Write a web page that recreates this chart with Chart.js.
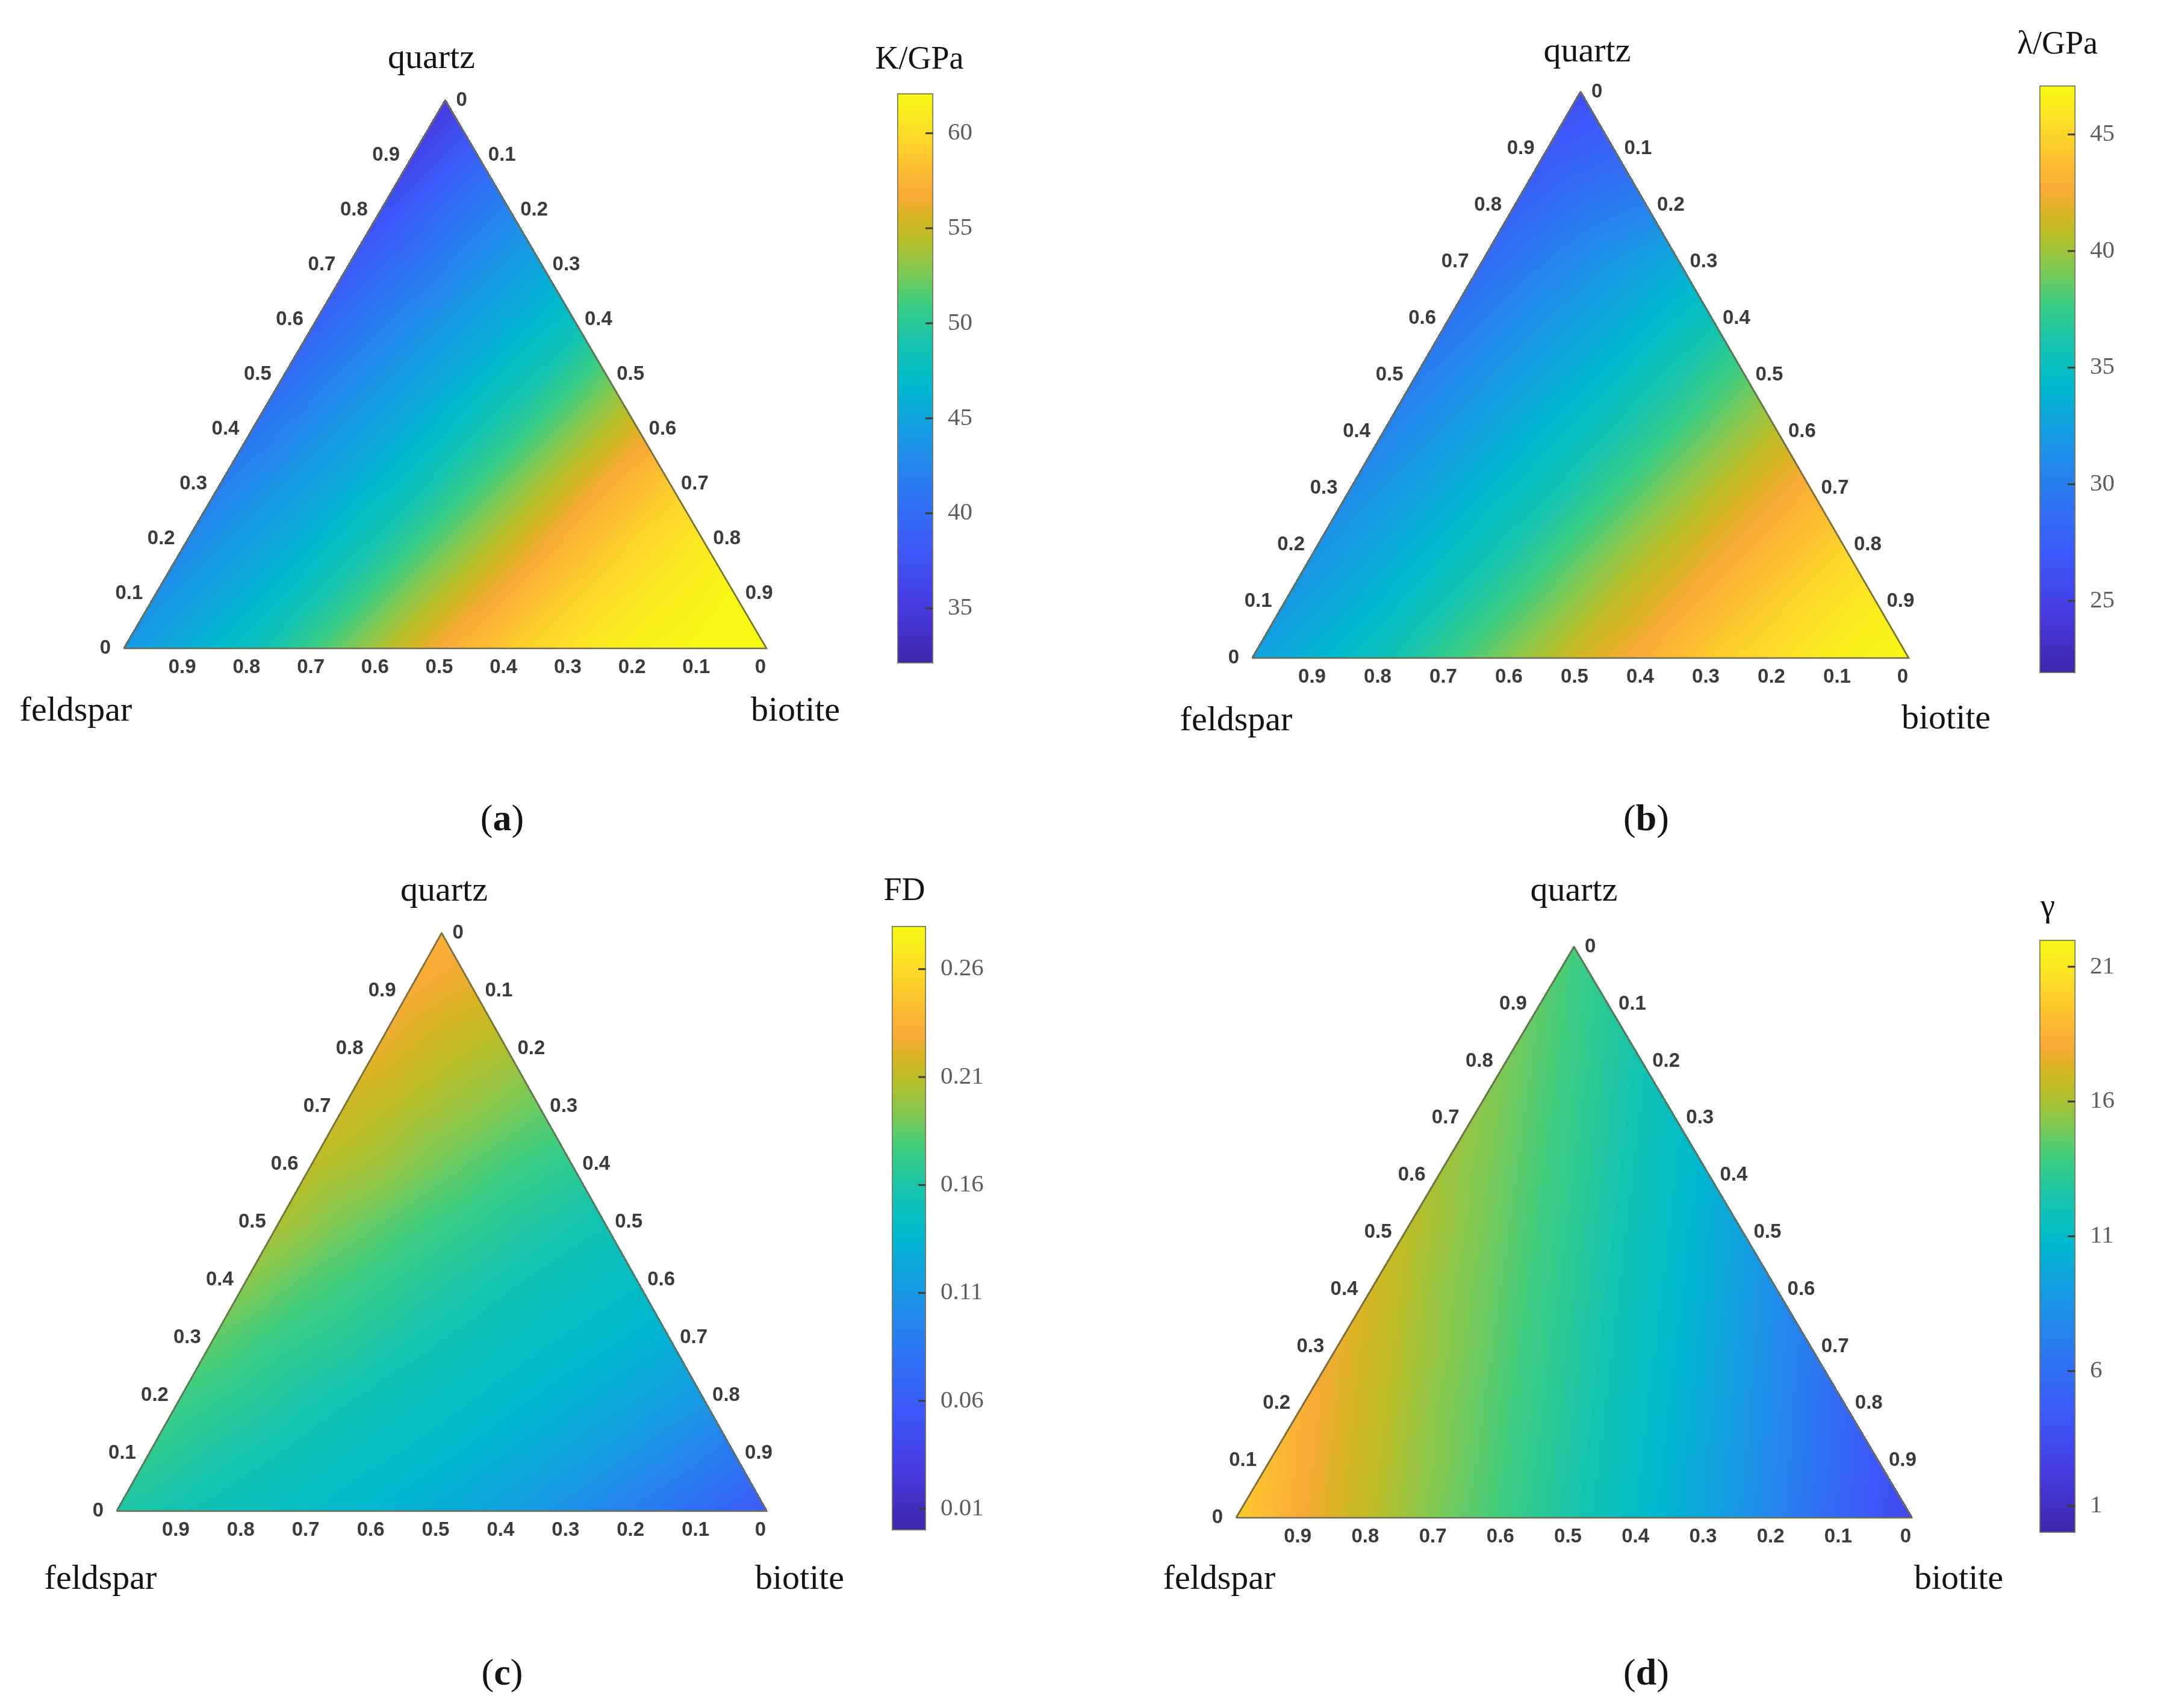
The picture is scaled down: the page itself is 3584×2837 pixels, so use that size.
<!DOCTYPE html>
<html>
<head>
<meta charset="utf-8">
<script src="https://cdn.jsdelivr.net/npm/chart.js@4.4.1/dist/chart.umd.min.js"></script>
<style>
  html, body { margin: 0; padding: 0; background: #fff; }
  body { width: 3584px; height: 2837px; position: relative; overflow: hidden; }
  canvas { position: absolute; }
  .txt { position: absolute; transform: translate(-50%, -50%); white-space: nowrap;
         font-family: "Liberation Serif", "Times New Roman", serif; color: #141414; }
  .cap { font-size: 62px; }
  .cbt { font-size: 54px; }
</style>
</head>
<body>
<script>
// edge labels of the three ternary axes
const edgeTicks = ["0", "0.1", "0.2", "0.3", "0.4", "0.5", "0.6", "0.7", "0.8", "0.9"];
const vertexNames = ["quartz", "feldspar", "biotite"];

// each row is one quartz fraction (0, 0.1 ... 1), entries run over biotite 0 ... 1-quartz
const bulkModulus = [
  [44.0, 46.0, 48.0, 51.0, 54.0, 57.0, 59.0, 60.5, 61.5, 62.0, 62.0],
  [43.3, 45.3, 47.3, 49.9, 53.0, 55.9, 58.3, 60.0, 61.1, 61.9],
  [42.6, 44.6, 46.6, 48.9, 51.9, 54.9, 57.6, 59.5, 60.8],
  [41.9, 43.9, 45.9, 47.9, 50.9, 53.9, 56.9, 58.9],
  [40.9, 43.2, 45.2, 47.2, 49.8, 52.8, 55.8],
  [40.0, 42.5, 44.5, 46.5, 48.8, 51.8],
  [39.1, 41.7, 43.8, 45.8, 47.8],
  [38.4, 40.7, 43.1, 45.1],
  [37.2, 39.9, 42.4],
  [36.0, 39.0],
  [35.0]
];
const lameLambda = [
  [32.5, 34.0, 35.5, 37.5, 39.5, 41.5, 43.0, 44.5, 45.5, 46.5, 47.0],
  [32.0, 33.5, 35.0, 36.8, 38.8, 40.8, 42.5, 44.0, 45.2, 46.2],
  [31.5, 33.0, 34.5, 36.2, 38.2, 40.2, 42.0, 43.5, 44.8],
  [31.0, 32.5, 34.0, 35.5, 37.5, 39.5, 41.5, 43.0],
  [30.5, 32.0, 33.5, 35.0, 36.8, 38.8, 40.8],
  [30.0, 31.5, 33.0, 34.5, 36.2, 38.2],
  [29.3, 31.0, 32.5, 34.0, 35.5],
  [28.5, 30.3, 31.8, 33.2],
  [27.8, 29.3, 30.3],
  [27.0, 28.0],
  [26.0]
];
const fdValues = [
  [0.162, 0.155, 0.148, 0.142, 0.135, 0.128, 0.118, 0.105, 0.090, 0.075, 0.058],
  [0.170, 0.161, 0.154, 0.147, 0.141, 0.134, 0.126, 0.115, 0.102, 0.087],
  [0.176, 0.168, 0.159, 0.152, 0.146, 0.139, 0.132, 0.124, 0.113],
  [0.185, 0.174, 0.167, 0.158, 0.151, 0.144, 0.138, 0.131],
  [0.195, 0.182, 0.173, 0.164, 0.156, 0.149, 0.143],
  [0.205, 0.191, 0.180, 0.171, 0.162, 0.155],
  [0.210, 0.202, 0.189, 0.178, 0.170],
  [0.215, 0.207, 0.198, 0.187],
  [0.225, 0.213, 0.205],
  [0.230, 0.222],
  [0.235]
];
const gammaValues = [
  [19.7, 18.0, 16.5, 15.0, 13.8, 12.5, 11.0, 9.5, 7.5, 5.2, 3.0],
  [19.0, 17.4, 15.9, 14.6, 13.3, 11.9, 10.4, 8.7, 6.6, 4.3],
  [18.3, 16.8, 15.3, 14.1, 12.8, 11.3, 9.8, 7.8, 5.5],
  [17.7, 16.2, 14.9, 13.6, 12.2, 10.7, 9.0, 6.9],
  [17.1, 15.6, 14.4, 13.1, 11.6, 10.1, 8.1],
  [16.5, 15.2, 13.9, 12.5, 11.0, 9.3],
  [15.9, 14.7, 13.4, 11.9, 10.4],
  [15.5, 14.2, 12.8, 11.3],
  [15.0, 13.7, 12.2],
  [14.5, 13.1],
  [14.0]
];

// colour bar limits and ticks
const kRange = [32.1, 62.1];
const kTicks = [35, 40, 45, 50, 55, 60];
const lambdaRange = [21.9, 47.1];
const lambdaTicks = [25, 30, 35, 40, 45];
const fdRange = [0.0, 0.28];
const fdTicks = [0.01, 0.06, 0.11, 0.16, 0.21, 0.26];
const gammaRange = [0.0, 22.0];
const gammaTicks = [1, 6, 11, 16, 21];

// parula-like colour map (position, r, g, b)
const colourStops = [
  [0.00, 62, 38, 168], [0.10, 70, 58, 225], [0.20, 60, 88, 250], [0.28, 48, 112, 245],
  [0.35, 35, 135, 235], [0.42, 18, 160, 225], [0.49, 0, 185, 205], [0.56, 20, 195, 175],
  [0.63, 60, 205, 130], [0.69, 130, 200, 80], [0.745, 185, 190, 40], [0.785, 218, 180, 35],
  [0.82, 248, 170, 55], [0.87, 252, 190, 48], [0.93, 252, 220, 40], [1.00, 248, 250, 20]
];

const SQ = Math.sqrt(3) / 2;
const PAD = 240;

const lut = [];
for (let i = 0; i < 256; i++) {
  const t = i / 255;
  let k = 0;
  while (k < colourStops.length - 2 && colourStops[k + 1][0] < t) k++;
  const a = colourStops[k], b = colourStops[k + 1];
  const s = Math.min(1, Math.max(0, (t - a[0]) / (b[0] - a[0])));
  lut.push([0, 1, 2].map(c => Math.round(a[c + 1] + (b[c + 1] - a[c + 1]) * s)));
}
const colourAt = t => lut[Math.round(Math.min(1, Math.max(0, t)) * 255)];

// linear interpolation inside the ternary grid (rows by quartz, step 0.1)
function fieldAt(rows, q, b) {
  const u0 = q * 10, v0 = b * 10;
  const i = Math.min(9, Math.max(0, Math.floor(u0)));
  const j = Math.min(9 - i, Math.max(0, Math.floor(v0)));
  const u = u0 - i, v = v0 - j;
  if (u + v <= 1 || i + j === 9) {
    return rows[i][j] * (1 - u - v) + rows[i + 1][j] * u + rows[i][j + 1] * v;
  }
  return rows[i + 1][j + 1] * (u + v - 1) + rows[i + 1][j] * (1 - v) + rows[i][j + 1] * (1 - u);
}

const fieldShading = {
  id: "fieldShading",
  beforeDatasetsDraw(chart, args, opts) {
    const { ctx, scales: { x, y } } = chart;
    const left = Math.floor(x.getPixelForValue(0)) - 1;
    const right = Math.ceil(x.getPixelForValue(1)) + 1;
    const top = Math.floor(y.getPixelForValue(SQ)) - 1;
    const bottom = Math.ceil(y.getPixelForValue(0)) + 1;
    const w = right - left, h = bottom - top;
    const off = document.createElement("canvas");
    off.width = w; off.height = h;
    const octx = off.getContext("2d");
    const img = octx.createImageData(w, h);
    const d = img.data;
    for (let py = 0; py < h; py++) {
      const q = y.getValueForPixel(top + py + 0.5) / SQ;
      for (let px = 0; px < w; px++) {
        const b = x.getValueForPixel(left + px + 0.5) - q / 2;
        if (q < -0.002 || b < -0.002 || 1 - q - b < -0.002) continue;
        const qc = Math.min(1, Math.max(0, q));
        const bc = Math.min(1 - qc, Math.max(0, b));
        const c = colourAt((fieldAt(opts.rows, qc, bc) - opts.lo) / (opts.hi - opts.lo));
        const k = (py * w + px) * 4;
        d[k] = c[0]; d[k + 1] = c[1]; d[k + 2] = c[2]; d[k + 3] = 255;
      }
    }
    octx.putImageData(img, 0, 0);
    ctx.drawImage(off, left, top);
  }
};

const ternaryLabels = {
  id: "ternaryLabels",
  afterDraw(chart, args, opts) {
    const { ctx, scales: { x, y } } = chart;
    const at = (q, b) => [x.getPixelForValue(b + q / 2), y.getPixelForValue(q * SQ)];
    ctx.save();
    ctx.font = 'bold 33px "Liberation Sans", Arial, sans-serif';
    ctx.fillStyle = "#3b3b3b";
    ctx.textBaseline = "middle";
    edgeTicks.forEach((t, k) => {
      const v = k / 10;
      let [px, py] = at(v, 0);
      ctx.textAlign = "right";
      ctx.fillText(t, px - 22, py);
      [px, py] = at(1 - v, v);
      ctx.textAlign = "left";
      ctx.fillText(t, px + 18, py);
      [px, py] = at(0, 1 - v);
      ctx.textAlign = "center";
      ctx.fillText(t, px - 10, py + 32);
    });
    ctx.font = '58px "Liberation Serif", "Times New Roman", serif';
    ctx.fillStyle = "#141414";
    ctx.textAlign = "center";
    const corners = [at(1, 0), at(0, 0), at(0, 1)];
    vertexNames.forEach((name, k) => {
      const o = opts.offsets[k];
      ctx.fillText(name, corners[k][0] + o[0], corners[k][1] + o[1]);
    });
    ctx.restore();
  }
};

const barTicks = {
  id: "barTicks",
  afterDatasetsDraw(chart) {
    const { ctx, chartArea: a, scales: { y } } = chart;
    ctx.save();
    ctx.strokeStyle = "#3c3c30";
    ctx.lineWidth = 3;
    y.ticks.forEach(t => {
      const py = y.getPixelForValue(t.value);
      ctx.beginPath();
      ctx.moveTo(a.right - 13, py);
      ctx.lineTo(a.right - 1, py);
      ctx.stroke();
    });
    ctx.restore();
  }
};

function place(left, top, w, h) {
  const c = document.createElement("canvas");
  c.width = w; c.height = h;
  c.style.left = left + "px"; c.style.top = top + "px";
  c.style.width = w + "px"; c.style.height = h + "px";
  document.body.appendChild(c);
  return c;
}

function addText(cls, html, cx, cy) {
  const el = document.createElement("div");
  el.className = "txt " + cls;
  el.innerHTML = html;
  el.style.left = cx + "px";
  el.style.top = cy + "px";
  document.body.appendChild(el);
}

function ternaryChart(tri, rows, range, offsets) {
  const canvas = place(tri.l - PAD, tri.t - PAD, tri.r - tri.l + 2 * PAD, tri.b - tri.t + 2 * PAD);
  const nodes = [];
  rows.forEach((row, i) => row.forEach((v, j) => nodes.push({ x: j / 10 + i / 20, y: (i / 10) * SQ, v })));
  const outline = [{ x: 0, y: 0 }, { x: 1, y: 0 }, { x: 0.5, y: SQ }, { x: 0, y: 0 }];
  new Chart(canvas, {
    type: "scatter",
    data: {
      datasets: [
        { data: nodes, pointRadius: 0, pointHoverRadius: 0 },
        { data: outline, showLine: true, borderColor: "#6d6d56", borderWidth: 2.5,
          pointRadius: 0, pointHoverRadius: 0, clip: false, tension: 0 }
      ]
    },
    options: {
      responsive: false,
      animation: false,
      events: [],
      layout: { padding: PAD },
      scales: {
        x: { type: "linear", display: false, min: 0, max: 1 },
        y: { type: "linear", display: false, min: 0, max: SQ }
      },
      plugins: {
        legend: { display: false },
        tooltip: { enabled: false },
        fieldShading: { rows, lo: range[0], hi: range[1] },
        ternaryLabels: { offsets }
      }
    },
    plugins: [fieldShading, ternaryLabels]
  });
}

function colourBar(bar, range, ticks, labels) {
  const padX = 4, padY = 60, axisW = 130;
  const canvas = place(bar.l - padX, bar.t - padY, padX + bar.w + axisW, bar.h + 2 * padY);
  new Chart(canvas, {
    type: "bar",
    data: {
      labels: [""],
      datasets: [{
        data: [[range[0], range[1]]],
        backgroundColor: (c) => {
          const { ctx, chartArea } = c.chart;
          if (!chartArea) return "#888";
          const g = ctx.createLinearGradient(0, chartArea.bottom, 0, chartArea.top);
          colourStops.forEach(s => g.addColorStop(s[0], `rgb(${s[1]},${s[2]},${s[3]})`));
          return g;
        },
        borderColor: "#7d7a5c",
        borderWidth: 2,
        borderSkipped: false,
        barPercentage: 1,
        categoryPercentage: 1
      }]
    },
    options: {
      responsive: false,
      animation: false,
      events: [],
      layout: { padding: { left: padX, right: 0, top: padY, bottom: padY } },
      scales: {
        x: { display: false },
        y: {
          position: "right",
          min: range[0],
          max: range[1],
          afterBuildTicks: (s) => { s.ticks = ticks.map(v => ({ value: v })); },
          afterFit: (s) => { s.width = axisW; },
          grid: { display: false },
          border: { display: false },
          ticks: {
            padding: 16,
            color: "#5e5e5e",
            font: { family: '"Liberation Serif", "Times New Roman", serif', size: 41 },
            callback: (v, i) => labels[i]
          }
        }
      },
      plugins: { legend: { display: false }, tooltip: { enabled: false } }
    },
    plugins: [barTicks]
  });
}

const panels = [
  { tri: { l: 206, r: 1273, t: 167, b: 1077 }, rows: bulkModulus, range: kRange, ticks: kTicks,
    bar: { l: 1490, t: 155, w: 60, h: 947 }, title: "K/GPa", titleAt: [1527, 96],
    offsets: [[-23, -69], [-80, 105], [48, 105]], caption: "a", capAt: [834, 1358] },
  { tri: { l: 2080, r: 3170, t: 153, b: 1093 }, rows: lameLambda, range: lambdaRange, ticks: lambdaTicks,
    bar: { l: 3387, t: 142, w: 60, h: 976 }, title: "\u03bb/GPa", titleAt: [3417, 71],
    offsets: [[11, -66], [-27, 105], [62, 102]], caption: "b", capAt: [2734, 1358] },
  { tri: { l: 194, r: 1273, t: 1550, b: 2510 }, rows: fdValues, range: fdRange, ticks: fdTicks,
    bar: { l: 1481, t: 1538, w: 57, h: 1004 }, title: "FD", titleAt: [1502, 1477],
    offsets: [[4, -69], [-27, 114], [55, 114]], caption: "c", capAt: [834, 2777] },
  { tri: { l: 2053, r: 3175, t: 1573, b: 2521 }, rows: gammaValues, range: gammaRange, ticks: gammaTicks,
    bar: { l: 3387, t: 1561, w: 60, h: 985 }, title: "\u03b3", titleAt: [3401, 1504],
    offsets: [[0, -92], [-28, 103], [78, 103]], caption: "d", capAt: [2734, 2777] }
];

panels.forEach(p => {
  ternaryChart(p.tri, p.rows, p.range, p.offsets);
  const labels = p.ticks.map(v => (p.range[1] < 1 ? v.toFixed(2) : String(v)));
  colourBar(p.bar, p.range, p.ticks, labels);
  addText("cbt", p.title, p.titleAt[0], p.titleAt[1]);
  addText("cap", "(<b>" + p.caption + "</b>)", p.capAt[0], p.capAt[1]);
});
</script>
</body>
</html>
